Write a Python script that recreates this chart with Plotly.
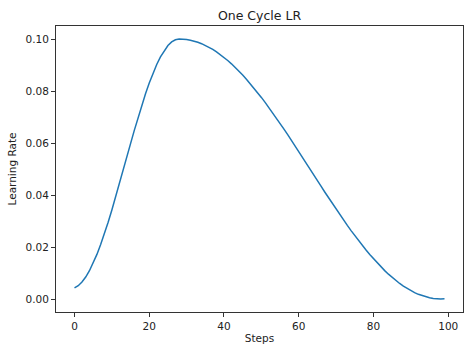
import plotly.graph_objects as go

steps = list(range(100))
learning_rate = [
    0.004281, 0.005122, 0.006513, 0.008436, 0.010869, 0.013788, 0.017152, 0.020926, 0.025063,
    0.029516, 0.034233, 0.039159, 0.044235, 0.049400, 0.054600, 0.059765, 0.064841, 0.069767, 0.074484,
    0.078937, 0.083074, 0.086848, 0.090212, 0.093131, 0.095564, 0.097487, 0.098878, 0.099719, 0.100000,
    0.09995, 0.09980, 0.09955, 0.09920, 0.09875, 0.09820, 0.09755, 0.09681, 0.09598, 0.09505,
    0.09403, 0.09292, 0.09173, 0.09045, 0.08909, 0.08765, 0.08614, 0.08455, 0.08290, 0.08117,
    0.07939, 0.07754, 0.07564, 0.07369, 0.07169, 0.06965, 0.06757, 0.06545, 0.06330, 0.06113,
    0.05893, 0.05671, 0.05448, 0.05224, 0.05000, 0.04776, 0.04552, 0.04329, 0.04107, 0.03887,
    0.03670, 0.03455, 0.03243, 0.03035, 0.02831, 0.02631, 0.02436, 0.02246, 0.02061, 0.01883,
    0.01710, 0.01545, 0.01386, 0.01235, 0.01091, 0.00955, 0.00827, 0.00708, 0.00597, 0.00495,
    0.00402, 0.00319, 0.00245, 0.00180, 0.00125, 0.00080, 0.00045, 0.00020, 0.00005, 0.00000,
    0.00005,
]
x_ticks = [0, 20, 40, 60, 80, 100]
y_ticks = [0.00, 0.02, 0.04, 0.06, 0.08, 0.10]
y_tick_labels = ["0.00", "0.02", "0.04", "0.06", "0.08", "0.10"]

font = "DejaVu Sans"

fig = go.Figure()
fig.add_trace(go.Scatter(x=steps, y=learning_rate, mode="lines",
                         line=dict(color="#1f77b4", width=1.5), showlegend=False))

axis_common = dict(showline=True, linecolor="#333333", linewidth=1, mirror=True,
                   ticks="outside", ticklen=4, tickwidth=1, tickcolor="#333333",
                   showgrid=False, zeroline=False, automargin=False,
                   tickfont=dict(family=font, size=10.5, color="#222222"))

fig.update_layout(
    width=474, height=355,
    margin=dict(l=56, r=11, t=26, b=43, autoexpand=False),
    paper_bgcolor="white", plot_bgcolor="white",
    title=dict(text="One Cycle LR", x=(56 + 463) / 2 / 474, xanchor="center",
               y=1 - 16 / 355, yanchor="middle", automargin=False,
               font=dict(family=font, size=12.5, color="#222222")),
    xaxis=dict(range=[-4.95, 103.95], tickvals=x_ticks,
               title=dict(text="Steps", font=dict(family=font, size=10.5, color="#222222"), standoff=4),
               **axis_common),
    yaxis=dict(range=[-0.005, 0.105], tickvals=y_ticks, ticktext=y_tick_labels,
               title=dict(text="Learning Rate", font=dict(family=font, size=10.5, color="#222222"), standoff=6),
               **axis_common),
)

fig.write_html("out.html",
               config={"displayModeBar": False, "staticPlot": True},
               post_script="document.body.style.margin='0';document.body.style.overflow='hidden';")
